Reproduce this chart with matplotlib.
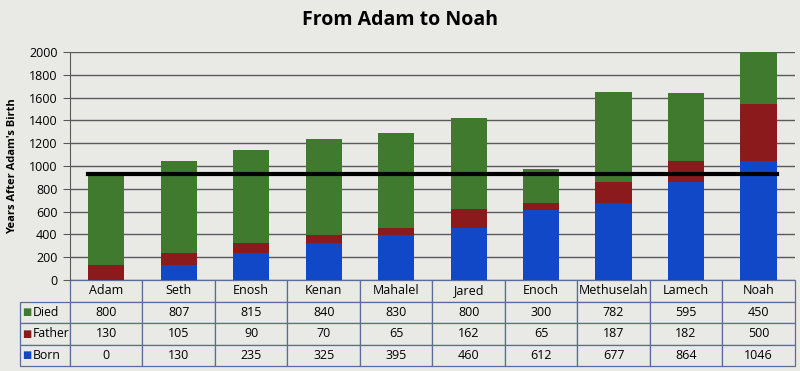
import matplotlib
matplotlib.use("Agg")
import matplotlib.pyplot as plt
import numpy as np

names = ["Adam", "Seth", "Enosh", "Kenan", "Mahalel", "Jared", "Enoch", "Methuselah", "Lamech", "Noah"]
born = [0, 130, 235, 325, 395, 460, 612, 677, 864, 1046]
father = [130, 105, 90, 70, 65, 162, 65, 187, 182, 500]
died = [800, 807, 815, 840, 830, 800, 300, 782, 595, 450]
adam_death = 930
yticks = [0, 200, 400, 600, 800, 1000, 1200, 1400, 1600, 1800, 2000]

c_born = "#1048c8"
c_father = "#8a1a1c"
c_died = "#3f7a2e"
bg = "#e9e9e6"

plt.rcParams['font.family'] = ['Open Sans', 'DejaVu Sans']

fig = plt.figure(figsize=(8, 3.71), dpi=100, facecolor=bg)
ax = fig.add_axes([0.0875, 0.245, 0.906, 0.615])
ax.set_facecolor(bg)

x = np.arange(len(names))
w = 0.5
ax.bar(x, born, w, color=c_born, zorder=3)
ax.bar(x, father, w, bottom=born, color=c_father, zorder=3)
bottoms2 = np.array(born) + np.array(father)
ax.bar(x, died, w, bottom=bottoms2, color=c_died, zorder=3)

ax.plot([x[0] - w / 2, x[-1] + w / 2], [adam_death, adam_death], color="black", lw=3, zorder=4)

ax.set_xlim(-0.5, len(names) - 0.5)
ax.set_ylim(0, 2000)
ax.set_yticks(yticks)
ax.set_yticklabels([str(t) for t in yticks], fontsize=9)
ax.set_xticks([])
ax.yaxis.grid(True, color="#5a5a5a", lw=1, zorder=0)
for s in ["top", "right", "bottom"]:
    ax.spines[s].set_visible(False)
ax.spines["left"].set_color("#5a5a5a")
ax.tick_params(axis="y", length=5, color="#5a5a5a", pad=4)
ax.set_ylabel("Years After Adam's Birth", fontsize=8, fontweight="bold", labelpad=8)

fig.text(0.5, 0.945, "From Adam to Noah", ha="center", va="center", fontsize=14, fontweight="bold")

rows = ["Died", "Father", "Born"]
series = [died, father, born]
label_w = 0.069
cell_text = [[""] + [str(v) for v in s] for s in series]
tab = ax.table(cellText=cell_text, colLabels=[""] + names,
               colWidths=[label_w] + [0.1] * len(names),
               cellLoc="center",
               bbox=[-label_w, -0.377, 1 + label_w, 0.377])
tab.auto_set_font_size(False)
tab.set_fontsize(9)
for (r, c), cell in tab.get_celld().items():
    cell.set_edgecolor("#5a6d99")
    cell.set_facecolor(bg)
    cell.set_linewidth(0.9)
    if r == 0 and c == 0:
        cell.visible_edges = ""

# row labels with legend keys
row_colors = [c_died, c_father, c_born]
for i, (lab, col) in enumerate(zip(rows, row_colors)):
    yc = -0.377 + 0.377 * (3 - i - 0.5) / 4
    ax.text(-0.066, yc, "\u25A0", color=col, fontsize=7, ha="left", va="center",
            transform=ax.transAxes, clip_on=False, family="DejaVu Sans")
    ax.text(-0.052, yc, lab, color="black", fontsize=8.8, ha="left", va="center",
            transform=ax.transAxes, clip_on=False)

fig.savefig("out.png", dpi=100, facecolor=bg)
